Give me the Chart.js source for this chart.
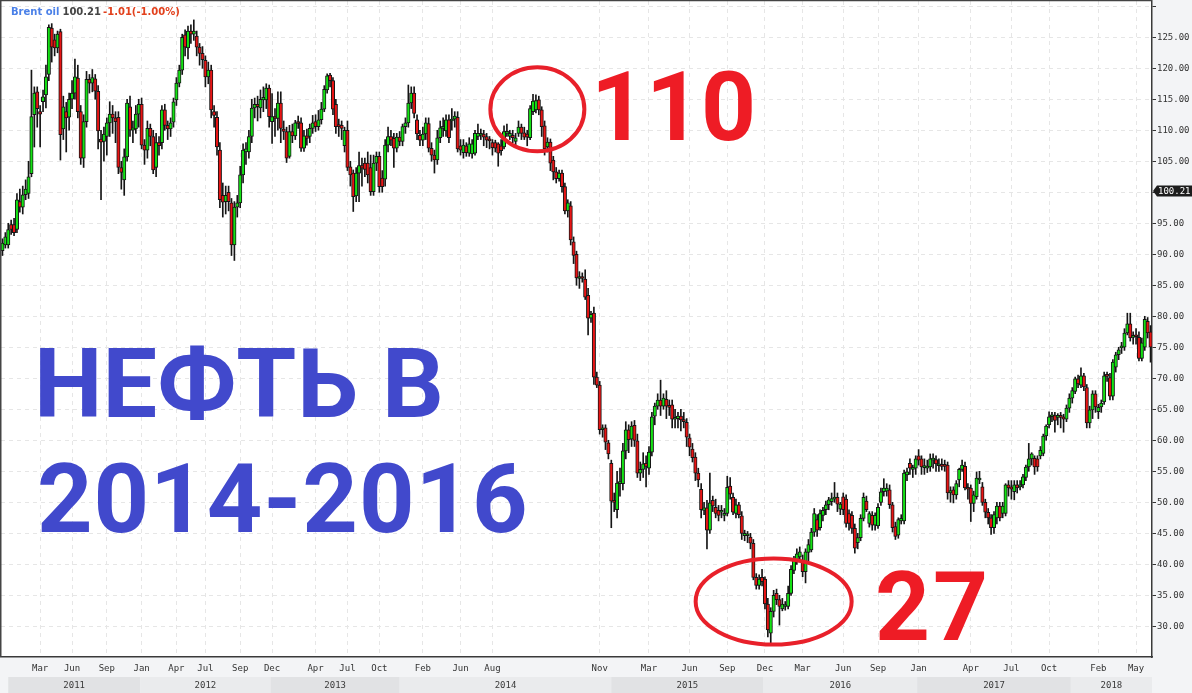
<!DOCTYPE html>
<html>
<head>
<meta charset="utf-8">
<script src="https://cdn.jsdelivr.net/npm/chart.js@4.4.1/dist/chart.umd.min.js"></script>
<style>
  html, body { margin: 0; padding: 0; background: #f3f4f6; }
  canvas { display: block; }
</style>
</head>
<body>
<canvas id="brent" width="1192" height="693"></canvas>
<script>
// Brent oil, weekly candles 2011 - May 2018
const opens = [
  90.6, 91.5, 91.5, 94.8, 94.8, 94.0, 98.5, 97.6, 99.6, 99.8,
  103.0, 112.5, 116.2, 113.0, 114.6, 115.7, 119.0, 126.5, 124.6, 123.3,
  125.9, 110.2, 113.0, 112.1, 115.0, 116.0, 118.4, 113.0, 105.5, 111.4,
  118.2, 117.6, 118.3, 116.3, 108.6, 108.2, 109.0, 111.2, 112.6, 112.0,
  112.1, 104.0, 102.0, 105.7, 113.8, 110.0, 110.2, 112.6, 114.2, 107.6,
  106.8, 110.3, 109.0, 104.0, 108.0, 108.0, 113.3, 110.8, 110.2, 111.3,
  114.9, 117.6, 119.7, 125.4, 123.3, 126.0, 125.5, 125.2, 123.4, 122.4,
  121.3, 118.6, 119.7, 113.0, 112.1, 106.8, 99.5, 98.5, 100.0, 98.3,
  91.5, 97.6, 98.3, 102.8, 106.5, 106.5, 109.0, 113.6, 114.2, 113.6,
  114.9, 114.9,
  // late 2012 - 2013
  116.8, 111.4, 112.2, 111.9, 114.4, 110.2, 109.8, 105.8, 109.8, 109.1,
  111.3, 111.2, 107.1, 109.1, 109.0, 110.3, 111.4, 110.6, 111.7, 113.4,
  116.5, 118.9, 118.0, 114.2, 110.9, 110.8, 107.5, 110.0, 104.1, 103.1,
  99.4, 103.1, 104.3, 104.7, 104.7, 104.0, 100.1, 104.7, 105.8, 102.3,
  102.1, 107.6, 109.0, 108.7, 107.1, 108.9, 108.2, 110.6, 111.2, 114.4,
  116.0, 111.7, 109.2, 108.4, 109.4, 111.1,
  // 2014 before the fall
  107.1, 106.0, 105.2, 108.8, 110.3, 109.9, 111.7, 111.5, 111.8,
  112.1, 107.5, 106.4, 107.5, 106.3, 106.2, 106.3, 109.0, 109.2, 109.4,
  109.0, 108.6, 108.0, 108.0, 107.8, 107.5, 107.3, 109.5, 109.0, 109.2,
  108.2, 109.5, 110.5, 109.6, 109.4, 108.8, 113.0, 113.3, 114.9, 113.3, 110.7,
  // the fall
  107.3, 108.1, 105.2, 103.3, 102.2, 103.1, 100.9, 97.0, 97.8, 92.0,
  90.0, 86.1, 86.4, 86.0, 83.4, 79.7, 80.5, 70.2, 68.9, 61.7,
  62.0, 59.6, 56.3, 50.2, 48.8, 53.0, 53.0, 58.3, 61.7, 60.2,
  62.4, 59.9, 54.7, 55.3, 56.3, 55.5, 58.1, 63.9, 65.5, 66.5,
  65.5, 66.6, 65.6, 65.7, 63.4, 63.5, 63.9, 63.3, 62.9, 60.4,
  58.6, 57.3, 54.7, 52.1,
  // bottom and 2016
  48.7, 49.1, 45.5, 50.3, 49.2, 48.7, 48.4, 47.9, 48.2, 52.6,
  50.8, 48.2, 49.6, 47.8, 44.6, 44.6, 44.4, 43.4, 37.9, 36.6,
  37.9, 37.6, 33.6, 28.9, 32.4, 35.3, 34.3, 32.8, 33.2, 33.2,
  35.3, 39.0, 40.4, 41.2, 40.7, 38.8, 41.9, 42.3, 45.2, 47.2,
  45.9, 47.9, 48.8, 49.6, 50.1, 50.5, 50.8, 48.9, 50.9, 50.5,
  48.2, 47.9, 45.8, 43.5, 44.3, 47.4, 50.2, 46.6, 47.9, 46.3,
  46.2, 50.0, 51.7, 51.8, 52.0, 49.6, 46.1, 44.7, 47.0, 47.0,
  54.4, 56.3, 55.3, 55.5,
  // 2017 - 2018
  57.5, 57.0, 55.6, 55.5, 55.7, 56.8, 56.9, 55.9, 56.0, 56.0,
  56.0, 51.5, 52.0, 51.2, 53.6, 55.3, 55.8, 52.3, 52.3, 49.8,
  50.9, 53.6, 52.5, 50.0, 48.4, 47.5, 45.9, 47.5, 49.4, 48.2,
  48.2, 52.8, 52.5, 51.7, 52.8, 52.5, 52.8, 54.0, 55.7, 57.0,
  57.1, 57.0, 57.5, 57.9, 60.7, 62.5, 63.8, 64.0, 63.7, 64.0,
  63.8, 63.4, 65.2, 66.8, 67.9, 69.9, 68.9, 70.4, 68.5, 62.8,
  64.9, 67.5, 64.6, 65.4, 66.2, 70.6, 70.1, 67.1, 71.8, 73.8,
  74.9, 75.0, 77.3, 78.8, 76.6, 76.9, 76.6, 73.2, 75.0, 79.2, 77.5
];
const highs = [
  92.5, 93.5, 95.0, 95.5, 95.8, 99.8, 100.5, 101.0, 102.0, 105.0,
  119.7, 117.0, 117.0, 114.0, 116.5, 120.5, 127.0, 127.2, 125.5, 126.0,
  126.3, 115.5, 114.5, 116.0, 118.0, 121.5, 120.5, 114.0, 112.5, 119.5,
  119.0, 119.8, 119.0, 117.2, 110.0, 110.5, 112.0, 114.6, 114.0, 113.0,
  113.0, 105.0, 107.0, 115.0, 115.5, 111.5, 114.0, 115.0, 115.2, 108.5,
  111.5, 111.0, 110.0, 109.5, 109.0, 114.0, 114.2, 111.5, 112.0, 115.2,
  118.5, 120.5, 125.5, 126.2, 126.8, 127.0, 127.8, 126.0, 124.0, 123.5,
  122.0, 121.0, 120.5, 114.0, 113.0, 108.0, 101.5, 101.0, 101.0, 99.0,
  98.5, 99.5, 104.2, 107.8, 108.0, 110.0, 115.0, 115.2, 115.5, 116.5,
  117.0, 117.5,
  117.3, 115.9, 113.5, 116.2, 116.2, 111.5, 110.5, 110.8, 111.0, 111.6,
  112.3, 112.0, 110.0, 110.2, 111.0, 112.4, 112.5, 113.2, 114.5, 117.2,
  119.1, 119.2, 118.5, 115.0, 111.8, 111.5, 110.5, 111.5, 105.0, 103.6,
  104.0, 106.5, 105.5, 105.5, 106.5, 106.0, 106.0, 106.5, 106.5, 103.5,
  108.5, 110.5, 110.0, 109.5, 109.5, 109.8, 111.0, 112.0, 117.3, 117.0,
  117.0, 112.5, 110.0, 110.5, 112.0, 112.0,
  108.0, 106.8, 110.0, 111.5, 112.0, 112.5, 112.5, 113.5, 113.0,
  113.0, 108.5, 108.5, 108.0, 108.8, 108.5, 110.0, 111.0, 110.2, 110.0,
  109.5, 109.0, 108.5, 108.4, 108.0, 108.5, 110.7, 111.0, 110.0, 110.0,
  109.5, 111.5, 111.0, 110.5, 110.0, 114.0, 115.8, 115.7, 115.5, 113.8, 111.5,
  108.8, 108.6, 105.8, 104.0, 103.6, 103.6, 101.5, 98.8, 98.5, 92.8,
  90.5, 87.2, 87.0, 87.5, 84.5, 80.8, 81.5, 71.0, 69.5, 62.5,
  62.5, 60.0, 56.8, 51.5, 55.0, 55.5, 59.5, 63.0, 62.5, 63.0,
  63.2, 61.0, 56.5, 58.0, 57.5, 59.0, 64.5, 66.0, 67.5, 69.7,
  67.5, 68.0, 66.5, 66.5, 65.0, 64.5, 65.0, 64.5, 63.5, 61.0,
  59.5, 58.0, 55.5, 53.0,
  50.0, 50.3, 54.7, 51.0, 50.5, 49.5, 49.5, 49.0, 54.2, 54.0,
  51.5, 50.5, 50.0, 48.5, 45.5, 45.3, 45.0, 44.0, 38.5, 38.3,
  39.2, 38.0, 34.5, 33.0, 35.8, 36.0, 35.0, 34.5, 34.0, 36.5,
  39.8, 41.3, 42.5, 42.8, 41.5, 42.5, 44.0, 45.8, 49.0, 48.0,
  48.8, 49.2, 50.2, 50.8, 51.5, 53.2, 51.5, 50.0, 51.5, 51.2,
  48.8, 48.5, 46.5, 45.0, 48.0, 51.5, 51.0, 48.5, 48.5, 48.3,
  49.8, 52.3, 53.8, 53.0, 52.8, 50.0, 46.8, 47.5, 48.0, 55.2,
  55.5, 57.0, 56.0, 57.5,
  58.5, 57.5, 57.0, 56.8, 57.8, 57.8, 57.5, 57.0, 57.0, 56.8,
  56.5, 52.5, 52.5, 53.5, 55.5, 56.8, 56.5, 53.0, 52.8, 51.8,
  54.9, 55.0, 53.2, 50.5, 49.0, 48.0, 48.5, 50.0, 50.0, 50.0,
  53.0, 53.5, 53.5, 53.5, 53.5, 53.5, 54.5, 56.0, 59.5, 58.0,
  57.5, 57.5, 59.0, 61.0, 62.5, 64.6, 64.5, 64.5, 64.3, 64.5,
  64.2, 65.7, 67.5, 68.5, 70.2, 70.5, 71.7, 70.8, 69.0, 65.5,
  68.0, 68.0, 65.8, 66.5, 71.0, 71.0, 70.8, 73.0, 74.2, 75.0,
  75.8, 78.0, 80.5, 80.5, 77.5, 78.0, 77.5, 76.5, 80.0, 79.8, 78.5
];
const lows = [
  89.8, 91.0, 91.0, 93.2, 93.0, 93.5, 96.8, 96.5, 98.8, 99.0,
  102.5, 107.3, 110.5, 107.3, 113.0, 113.6, 118.0, 121.0, 122.0, 122.5,
  105.2, 108.5, 106.5, 110.0, 113.5, 115.0, 112.0, 104.5, 104.0, 110.5,
  116.0, 116.2, 115.0, 107.0, 98.8, 105.0, 106.0, 109.0, 109.5, 108.0,
  103.0, 100.5, 99.5, 105.0, 109.0, 108.0, 109.5, 110.5, 107.0, 104.5,
  105.5, 107.5, 103.0, 102.5, 106.0, 107.0, 110.0, 108.5, 109.0, 110.5,
  114.0, 117.0, 119.0, 122.0, 121.5, 124.0, 124.5, 122.0, 120.5, 120.0,
  117.0, 117.5, 112.0, 110.5, 106.0, 97.5, 96.0, 96.5, 97.0, 89.8,
  89.0, 96.0, 97.5, 101.5, 104.5, 105.5, 108.0, 112.0, 111.5, 112.0,
  113.0, 113.5,
  110.5, 107.9, 109.0, 110.0, 108.0, 108.5, 104.8, 105.5, 108.0, 108.5,
  110.3, 106.6, 106.6, 107.6, 108.0, 109.5, 109.8, 110.0, 111.0, 113.0,
  116.0, 117.0, 112.5, 109.5, 109.0, 108.5, 106.5, 103.5, 101.0, 96.9,
  98.5, 98.5, 101.0, 102.5, 101.5, 99.5, 99.5, 103.5, 100.0, 100.0,
  101.0, 106.5, 107.5, 104.0, 106.5, 107.5, 107.5, 109.5, 110.5, 113.5,
  112.0, 108.5, 107.5, 107.5, 108.5, 106.5,
  105.0, 103.1, 104.5, 108.0, 109.0, 109.0, 108.0, 110.0, 110.5,
  106.5, 106.0, 105.5, 105.8, 105.8, 105.5, 106.0, 108.5, 108.5, 107.5,
  107.2, 107.0, 106.0, 106.5, 104.2, 106.0, 107.0, 109.0, 108.5, 108.0,
  107.5, 109.0, 108.5, 108.5, 107.5, 108.5, 112.5, 112.8, 112.5, 109.0, 106.0,
  106.5, 103.5, 102.0, 101.5, 101.8, 100.0, 96.5, 96.0, 91.5, 88.5,
  85.0, 84.5, 85.5, 82.7, 77.0, 79.0, 69.0, 68.5, 61.0, 60.5,
  58.5, 57.0, 45.9, 48.5, 47.5, 51.0, 52.0, 57.0, 58.0, 59.0,
  59.0, 54.0, 53.5, 54.0, 52.5, 54.5, 57.5, 62.5, 65.0, 64.0,
  65.0, 63.5, 64.0, 62.0, 62.0, 62.0, 61.5, 62.0, 59.0, 57.5,
  56.5, 53.5, 52.5, 47.5,
  48.0, 42.5, 45.0, 48.5, 47.5, 47.0, 47.5, 47.0, 47.8, 50.5,
  48.0, 47.5, 47.5, 44.0, 43.8, 43.5, 42.5, 37.5, 36.0, 36.0,
  36.5, 32.8, 28.3, 27.3, 31.5, 33.5, 30.2, 32.5, 32.6, 32.8,
  35.0, 38.5, 40.0, 40.5, 38.0, 37.0, 40.5, 42.0, 44.5, 44.5,
  45.5, 47.0, 48.0, 48.8, 49.5, 50.0, 48.5, 48.0, 48.0, 46.0,
  45.5, 45.0, 41.8, 42.5, 43.8, 47.0, 48.5, 46.0, 45.5, 45.5,
  45.8, 49.5, 51.0, 51.0, 49.0, 45.2, 44.0, 44.2, 46.5, 46.5,
  53.5, 54.5, 54.0, 54.5,
  56.0, 54.5, 54.5, 54.8, 55.0, 55.5, 55.0, 55.0, 55.2, 55.0,
  50.5, 50.0, 49.9, 50.5, 52.5, 55.0, 52.0, 50.5, 46.9, 48.5,
  50.5, 53.0, 49.5, 47.5, 46.5, 44.8, 45.0, 46.5, 47.0, 47.5,
  47.8, 51.0, 50.5, 50.4, 51.5, 52.0, 52.3, 53.5, 55.0, 56.0,
  54.5, 55.0, 57.0, 57.5, 60.0, 62.0, 63.0, 61.3, 62.5, 62.0,
  61.3, 63.0, 64.5, 66.0, 67.5, 68.5, 68.5, 68.0, 62.0, 62.0,
  63.5, 64.5, 63.5, 64.5, 65.8, 69.5, 66.5, 66.5, 71.0, 73.0,
  74.0, 74.5, 77.0, 76.0, 75.5, 75.5, 72.8, 72.8, 74.5, 76.5, 72.6
];
const closes = [
  91.8, 92.8, 94.0, 94.0, 93.5, 98.8, 97.6, 99.6, 100.5, 102.5,
  112.2, 116.0, 113.5, 112.6, 115.4, 118.6, 126.6, 123.4, 123.3, 125.5,
  109.3, 113.8, 112.0, 115.0, 116.0, 118.6, 113.0, 105.5, 111.4, 118.2,
  117.6, 118.5, 116.3, 109.9, 108.1, 109.4, 111.2, 112.6, 112.0, 111.4,
  104.0, 103.2, 105.7, 114.4, 110.0, 110.4, 112.6, 114.2, 107.6, 106.8,
  110.3, 109.0, 103.6, 108.0, 107.5, 113.3, 110.8, 110.2, 111.2, 114.6,
  117.6, 119.7, 125.0, 123.4, 126.0, 125.5, 126.0, 123.4, 122.4, 121.4,
  118.6, 119.7, 113.3, 112.4, 107.3, 98.8, 98.4, 99.5, 98.5, 91.5,
  97.6, 98.3, 102.8, 106.8, 107.0, 109.0, 113.6, 114.2, 113.8, 115.0,
  115.3, 116.8,
  112.2, 112.2, 111.9, 114.4, 110.3, 109.8, 105.5, 109.8, 109.1, 111.2,
  111.1, 107.1, 109.1, 108.7, 110.3, 111.2, 110.6, 111.7, 113.4, 116.6,
  118.8, 118.0, 113.4, 110.6, 110.6, 110.3, 110.0, 104.0, 102.8, 99.3,
  103.1, 104.3, 103.9, 103.7, 102.8, 100.1, 104.7, 105.8, 100.9, 100.9,
  107.6, 109.0, 108.4, 107.1, 108.9, 108.2, 110.6, 111.2, 114.4, 116.0,
  112.7, 109.4, 108.4, 109.4, 111.2, 107.1,
  106.0, 105.2, 108.8, 110.4, 110.5, 111.7, 108.8, 111.8, 112.3,
  107.0, 106.8, 107.6, 106.4, 107.8, 107.8, 109.5, 109.5, 109.4, 108.9,
  108.4, 108.3, 107.2, 107.1, 106.3, 106.7, 109.8, 109.8, 109.5, 108.8,
  108.8, 110.5, 109.5, 108.9, 108.9, 113.5, 114.7, 114.8, 113.3, 110.6, 107.0,
  108.1, 104.7, 103.3, 102.2, 103.1, 100.9, 97.0, 98.3, 92.3, 89.8,
  86.2, 86.4, 86.1, 83.1, 79.7, 80.3, 70.2, 68.9, 61.7, 62.0,
  59.7, 57.8, 50.2, 50.0, 53.1, 53.3, 58.3, 61.7, 60.1, 62.3,
  60.0, 54.7, 55.3, 56.2, 55.8, 58.1, 63.8, 65.5, 66.5, 65.5,
  66.8, 65.5, 65.3, 63.4, 63.7, 63.9, 63.3, 63.0, 60.5, 58.9,
  57.2, 54.7, 53.6, 48.8,
  49.1, 45.5, 49.9, 49.4, 48.2, 47.9, 48.7, 48.2, 52.4, 51.3,
  48.4, 49.6, 48.0, 45.0, 45.0, 44.9, 43.4, 37.9, 36.6, 37.6,
  37.2, 33.6, 29.4, 32.4, 35.0, 34.3, 33.2, 33.6, 33.5, 35.3,
  39.2, 40.7, 41.7, 42.0, 38.8, 42.0, 43.2, 45.2, 48.2, 45.5,
  48.2, 48.7, 49.6, 50.4, 50.6, 50.8, 49.7, 49.7, 48.8, 46.6,
  46.6, 45.8, 42.6, 44.3, 47.4, 50.8, 48.8, 48.2, 46.3, 47.9,
  49.2, 51.7, 52.3, 52.3, 49.6, 45.9, 44.5, 47.2, 47.4, 54.7,
  54.9, 55.5, 55.5, 57.0,
  56.8, 55.7, 55.8, 55.8, 57.0, 57.0, 56.2, 56.2, 55.8, 55.8,
  51.5, 51.9, 51.2, 53.0, 55.3, 56.0, 52.3, 52.1, 49.8, 51.2,
  53.9, 53.9, 50.0, 48.4, 47.5, 45.9, 48.0, 49.4, 47.5, 49.4,
  52.8, 52.3, 52.1, 52.8, 52.3, 52.8, 54.1, 55.7, 57.0, 57.8,
  55.7, 55.7, 58.4, 60.7, 62.3, 63.8, 64.0, 63.2, 64.0, 63.7,
  63.4, 65.2, 66.8, 68.0, 69.9, 69.1, 70.4, 68.6, 62.8, 64.9,
  67.5, 65.4, 65.3, 66.0, 70.4, 70.3, 67.1, 72.6, 73.8, 74.6,
  75.2, 77.3, 78.8, 76.5, 76.9, 76.7, 73.2, 75.7, 79.5, 77.3, 75.0
];

// axis labels (candle index where each month label sits)
const monthIdx = [13, 24, 36, 48, 60, 70, 82, 93, 108, 119, 130, 145, 158, 169,
                  206, 223, 237, 250, 263, 276, 290, 302, 316, 334, 348, 361, 378, 391];
const monthNames = ['Mar', 'Jun', 'Sep', 'Jan', 'Apr', 'Jul', 'Sep', 'Dec', 'Apr', 'Jul', 'Oct', 'Feb', 'Jun', 'Aug',
                    'Nov', 'Mar', 'Jun', 'Sep', 'Dec', 'Mar', 'Jun', 'Sep', 'Jan', 'Apr', 'Jul', 'Oct', 'Feb', 'May'];
const years = ['2011', '2012', '2013', '2014', '2015', '2016', '2017', '2018'];
const yearStart = [2, 47.5, 92.5, 137, 210, 262.5, 315.5, 368.5];
const priceTicks = [30, 35, 40, 45, 50, 55, 60, 65, 70, 75, 80, 85, 90, 95, 100, 105, 110, 115, 120, 125, 130];

const seriesName = 'Brent oil';
const lastPrice = 100.21;
const changeText = '-1.01(-1.00%)';

const UP = '#14e214';
const DOWN = '#e81414';
const EDGE = '#151515';

const weeks = opens.map((_, i) => i);

const decor = {
  id: 'decor',
  beforeDraw(chart) {
    const {ctx, chartArea: a} = chart;
    ctx.save();
    ctx.fillStyle = '#f3f4f6';
    ctx.fillRect(0, 0, chart.width, chart.height);
    ctx.fillStyle = '#ffffff';
    ctx.fillRect(a.left, a.top, a.right - a.left, a.bottom - a.top);
    ctx.restore();
  },
  afterDatasetsDraw(chart) {
    const {ctx} = chart;
    const x = chart.scales.x, y = chart.scales.y;
    ctx.save();
    // red rings
    ctx.strokeStyle = '#e8202a';
    ctx.lineWidth = 4;
    ctx.beginPath();
    ctx.ellipse(x.getPixelForValue(184.5), y.getPixelForValue(113.4), 47, 42, 0, 0, Math.PI * 2);
    ctx.stroke();
    ctx.beginPath();
    ctx.ellipse(x.getPixelForValue(266), y.getPixelForValue(34.0), 78, 43, 0, 0, Math.PI * 2);
    ctx.stroke();

    // big captions
    const fitted = (text, left, base, width) => {
      ctx.letterSpacing = '0px';
      const m = ctx.measureText(text);
      const w = m.actualBoundingBoxLeft + m.actualBoundingBoxRight;
      ctx.letterSpacing = ((width - w) / (text.length - 1)) + 'px';
      ctx.fillText(text, left + m.actualBoundingBoxLeft, base);
    };
    ctx.textBaseline = 'alphabetic';
    ctx.textAlign = 'left';
    ctx.font = 'bold 97px Roboto';
    ctx.fillStyle = '#4149cc';
    fitted('НЕФТЬ В', 40, 417, 400);
    fitted('2014-2016', 40, 532, 485);
    ctx.font = 'bold 96px Roboto';
    ctx.fillStyle = '#ee1c25';
    fitted('110', 598, 140, 154);
    fitted('27', 878, 640, 107);
    ctx.restore();
  },
  afterDraw(chart) {
    const {ctx, chartArea: a} = chart;
    const x = chart.scales.x, y = chart.scales.y;
    ctx.save();
    // year band
    ctx.font = '9px "DejaVu Sans Mono"';
    ctx.textAlign = 'center';
    ctx.textBaseline = 'middle';
    years.forEach((yr, i) => {
      const x0 = x.getPixelForValue(yearStart[i]);
      const x1 = i < years.length - 1 ? x.getPixelForValue(yearStart[i + 1]) : a.right;
      ctx.fillStyle = i % 2 === 0 ? '#e1e2e4' : '#eaebed';
      ctx.fillRect(x0, 677, x1 - x0, 16);
      ctx.fillStyle = '#3a3a3a';
      ctx.fillText(yr, (x0 + x1) / 2, 686);
    });

    // frame
    ctx.strokeStyle = '#444';
    ctx.lineWidth = 1.5;
    ctx.beginPath();
    ctx.moveTo(a.right, a.top - 0.5);
    ctx.lineTo(0.75, a.top - 0.5);
    ctx.lineTo(0.75, a.bottom);
    ctx.stroke();

    // last price marker
    const py = y.getPixelForValue(lastPrice);
    ctx.fillStyle = '#1d1d1d';
    ctx.beginPath();
    ctx.moveTo(a.right + 1, py);
    ctx.lineTo(a.right + 5, py - 5.5);
    ctx.lineTo(chart.width, py - 5.5);
    ctx.lineTo(chart.width, py + 5.5);
    ctx.lineTo(a.right + 5, py + 5.5);
    ctx.closePath();
    ctx.fill();
    ctx.fillStyle = '#ffffff';
    ctx.textAlign = 'left';
    ctx.fillText(lastPrice.toFixed(2), a.right + 6, py + 0.5);

    // series caption
    ctx.font = 'bold 10px "DejaVu Sans"';
    ctx.textBaseline = 'alphabetic';
    let tx = 11;
    ctx.fillStyle = '#4a80e8';
    ctx.fillText(seriesName, tx, 15);
    tx += ctx.measureText(seriesName).width + 3;
    ctx.fillStyle = '#444444';
    ctx.fillText(lastPrice.toFixed(2), tx, 15);
    tx += ctx.measureText(lastPrice.toFixed(2)).width + 2;
    ctx.fillStyle = '#e2401c';
    ctx.fillText(changeText, tx, 15);
    ctx.restore();
  }
};

new Chart(document.getElementById('brent'), {
  type: 'bar',
  data: {
    labels: weeks,
    datasets: [
      {
        label: 'range',
        data: lows.map((l, i) => [l, highs[i]]),
        backgroundColor: EDGE,
        barThickness: 1,
        grouped: false,
        order: 2
      },
      {
        label: 'body',
        data: opens.map((o, i) => [o, closes[i]]),
        backgroundColor: opens.map((o, i) => closes[i] >= o ? UP : DOWN),
        borderColor: EDGE,
        borderWidth: 1,
        borderSkipped: false,
        barThickness: 3.4,
        minBarLength: 2,
        grouped: false,
        order: 1
      }
    ]
  },
  options: {
    responsive: false,
    animation: false,
    devicePixelRatio: 1,
    layout: { padding: { left: 1, top: 1, right: 0, bottom: 0 } },
    plugins: { legend: { display: false }, tooltip: { enabled: false } },
    scales: {
      x: {
        offset: true,
        grid: { offset: false, color: '#e6e6e6', drawTicks: false },
        border: { color: '#3a3a3a', width: 1.5, dash: [4, 4] },
        ticks: {
          autoSkip: false, maxRotation: 0, padding: 6, color: '#333',
          font: { family: 'DejaVu Sans Mono', size: 9 },
          callback: (v, i) => monthNames[i]
        },
        afterBuildTicks: s => { s.ticks = monthIdx.map(v => ({ value: v })); },
        afterFit: s => { s.height = 36; s.paddingLeft = 0; s.paddingRight = 0; }
      },
      y: {
        position: 'right',
        min: 25.05,
        max: 130.85,
        grid: { color: '#e6e6e6', tickLength: 4, tickColor: '#333', tickBorderDash: [] },
        border: { color: '#3a3a3a', width: 1.5, dash: [4, 4] },
        ticks: {
          padding: 1, color: '#333',
          font: { family: 'DejaVu Sans Mono', size: 9 },
          callback: v => v === 130 ? '' : v.toFixed(2)
        },
        afterBuildTicks: s => { s.ticks = priceTicks.map(v => ({ value: v })); },
        afterFit: s => { s.width = 40; s.paddingTop = 0; s.paddingBottom = 0; }
      }
    }
  },
  plugins: [decor]
});
</script>
</body>
</html>
